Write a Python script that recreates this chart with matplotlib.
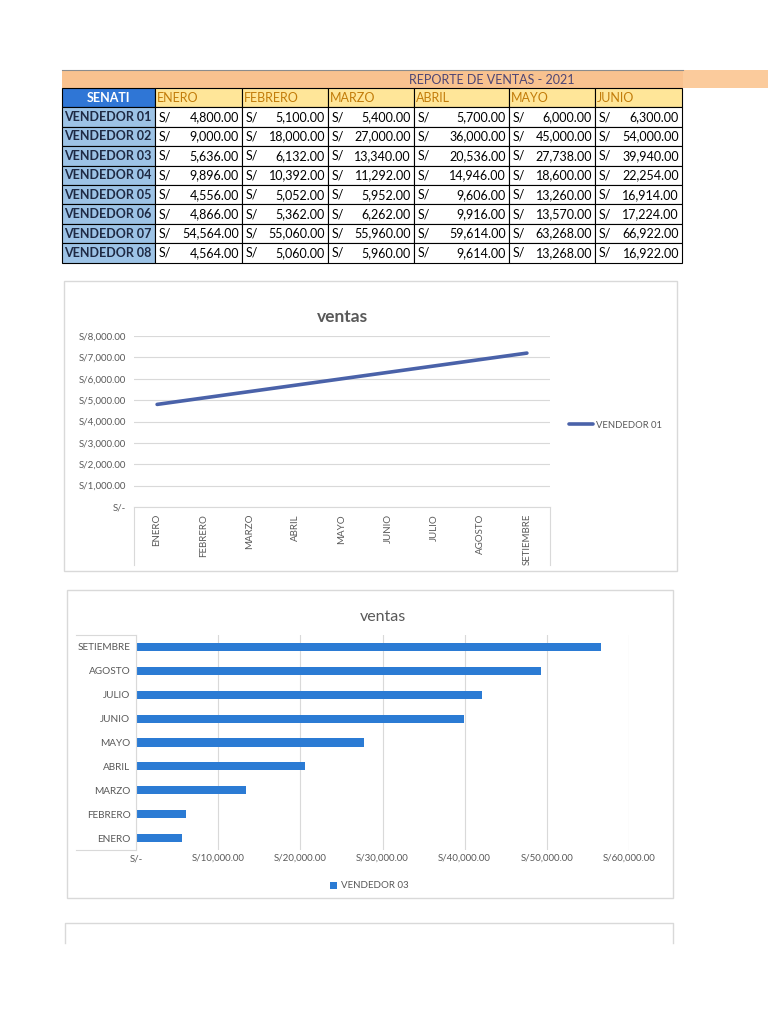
import matplotlib
matplotlib.use('Agg')
import matplotlib.pyplot as plt
from matplotlib.patches import Rectangle
from matplotlib.ticker import FuncFormatter

plt.rcParams['font.family'] = ['Lato', 'DejaVu Sans']

# table data
meses_tabla = ['ENERO', 'FEBRERO', 'MARZO', 'ABRIL', 'MAYO', 'JUNIO']
vendedores = ['VENDEDOR 01', 'VENDEDOR 02', 'VENDEDOR 03', 'VENDEDOR 04',
              'VENDEDOR 05', 'VENDEDOR 06', 'VENDEDOR 07', 'VENDEDOR 08']
v01 = [4800, 5100, 5400, 5700, 6000, 6300]
v02 = [9000, 18000, 27000, 36000, 45000, 54000]
v03 = [5636, 6132, 13340, 20536, 27738, 39940]
v04 = [9896, 10392, 11292, 14946, 18600, 22254]
v05 = [4556, 5052, 5952, 9606, 13260, 16914]
v06 = [4866, 5362, 6262, 9916, 13570, 17224]
v07 = [54564, 55060, 55960, 59614, 63268, 66922]
v08 = [4564, 5060, 5960, 9614, 13268, 16922]
tabla = [v01, v02, v03, v04, v05, v06, v07, v08]

# chart data
meses = ['ENERO', 'FEBRERO', 'MARZO', 'ABRIL', 'MAYO', 'JUNIO', 'JULIO', 'AGOSTO', 'SETIEMBRE']
linea_v01 = [4800, 5100, 5400, 5700, 6000, 6300, 6600, 6900, 7200]
barras_v03 = [5636, 6132, 13340, 20536, 27738, 39940, 42142, 49344, 56546]

W, H = 768, 1024
fig = plt.figure(figsize=(W / 100, H / 100), dpi=100)

# background axes in pixel coordinates for the table and chart frames
bg = fig.add_axes([0, 0, 1, 1])
bg.set_xlim(0, W)
bg.set_ylim(H, 0)
bg.axis('off')


def ax_rect(x0, y0, x1, y1):
    return [x0 / W, 1 - y1 / H, (x1 - x0) / W, (y1 - y0) / H]


# ---- table ----
col_x = [62, 155, 242, 328, 414, 509, 595, 682]
row_top = 88
row_h = 19.4
title_top = 70

bg.add_patch(Rectangle((62, title_top), W - 62, row_top - title_top, facecolor='#FBCB9C', edgecolor='none'))
bg.add_patch(Rectangle((62, title_top), 683 - 62, row_top - title_top, facecolor='#F9C28F', edgecolor='none'))
bg.plot([62, 683], [title_top, title_top], color='#8C8C8C', lw=0.8)
bg.text(492, (title_top + row_top) / 2 + 0.5, 'REPORTE DE VENTAS - 2021', ha='center', va='center',
        fontsize=9, color='#4E4675')

# header row
bg.add_patch(Rectangle((col_x[0], row_top), col_x[1] - col_x[0], row_h, facecolor='#2F76D6', edgecolor='black', lw=0.8))
bg.text((col_x[0] + col_x[1]) / 2, row_top + row_h / 2, 'SENATI', ha='center', va='center',
        fontsize=9, color='white', fontweight='bold')
for j, m in enumerate(meses_tabla):
    bg.add_patch(Rectangle((col_x[j + 1], row_top), col_x[j + 2] - col_x[j + 1], row_h,
                           facecolor='#FFE699', edgecolor='black', lw=0.8))
    bg.text(col_x[j + 1] + 2, row_top + row_h / 2, m, ha='left', va='center',
            fontsize=9, color='#C27C0A')

for i, (name, vals) in enumerate(zip(vendedores, tabla)):
    y = row_top + row_h * (i + 1)
    bg.add_patch(Rectangle((col_x[0], y), col_x[1] - col_x[0], row_h, facecolor='#9DC3E6', edgecolor='black', lw=0.8))
    bg.text(col_x[0] + 2, y + row_h / 2, name, ha='left', va='center',
            fontsize=9, color='#1F2A44', fontweight='bold')
    for j, v in enumerate(vals):
        bg.add_patch(Rectangle((col_x[j + 1], y), col_x[j + 2] - col_x[j + 1], row_h,
                               facecolor='white', edgecolor='black', lw=0.8))
        bg.text(col_x[j + 1] + 4, y + row_h / 2, 'S/', ha='left', va='center', fontsize=9, color='black')
        bg.text(col_x[j + 2] - 3, y + row_h / 2, f'{v:,.2f}', ha='right', va='center', fontsize=9, color='black')

# ---- frames ----
frame_c = '#D9D9D9'
bg.add_patch(Rectangle((64, 281), 677 - 64, 571 - 281, facecolor='none', edgecolor=frame_c, lw=1))
bg.add_patch(Rectangle((67, 590), 673 - 67, 898 - 590, facecolor='none', edgecolor=frame_c, lw=1))
bg.plot([65, 65, 673, 673], [943, 923, 923, 943], color=frame_c, lw=1)

gray = '#595959'

# ---- line chart ----
ax1 = fig.add_axes(ax_rect(134, 336, 550, 507))
x = list(range(len(meses)))
ax1.plot(x, linea_v01, color='#4A62A9', lw=2.6, solid_capstyle='round', label='VENDEDOR 01')
ax1.set_xlim(-0.5, len(meses) - 0.5)
ax1.set_ylim(0, 8000)
ax1.set_yticks(range(0, 8001, 1000))
ax1.yaxis.set_major_formatter(FuncFormatter(lambda v, p: 'S/-' if v == 0 else f'S/{v:,.2f}'))
ax1.set_xticks(x)
ax1.set_xticklabels(meses, rotation=90, fontsize=7, color=gray)
ax1.tick_params(axis='y', length=0, labelsize=7, labelcolor=gray, pad=6)
ax1.tick_params(axis='x', length=0, pad=5)
ax1.grid(axis='y', color=frame_c, lw=0.8)
ax1.set_axisbelow(True)
for s in ['top', 'right', 'left']:
    ax1.spines[s].set_visible(False)
ax1.spines['bottom'].set_color(frame_c)
ax1.set_title('ventas', fontsize=12.5, color=gray, fontweight='bold', pad=10)
ax1.legend(loc='center left', bbox_to_anchor=(560 / W, 1 - 425 / H), bbox_transform=fig.transFigure,
           frameon=False, fontsize=6.8, labelcolor=gray, handlelength=2.6, handletextpad=0.3)
bg.plot([134, 134], [507, 565], color=frame_c, lw=0.8)
bg.plot([550, 550], [507, 565], color=frame_c, lw=0.8)

# ---- bar chart ----
ax2 = fig.add_axes(ax_rect(136, 635, 629, 850))
ax2.barh(x, barras_v03, height=0.34, color='#2B7BD4', label='VENDEDOR 03')
ax2.set_ylim(-0.5, len(meses) - 0.5)
ax2.set_xlim(0, 60000)
ax2.set_xticks(range(0, 60001, 10000))
ax2.xaxis.set_major_formatter(FuncFormatter(lambda v, p: 'S/-' if v == 0 else f'S/{v:,.2f}'))
ax2.set_yticks(x)
ax2.set_yticklabels(meses, fontsize=7.2, color=gray)
ax2.tick_params(axis='x', length=0, labelsize=7, labelcolor=gray, pad=3)
ax2.tick_params(axis='y', length=0, pad=4)
ax2.grid(axis='x', color=frame_c, lw=0.8)
ax2.set_axisbelow(True)
for s in ['top', 'right', 'bottom']:
    ax2.spines[s].set_visible(False)
ax2.spines['left'].set_color(frame_c)
ax2.set_title('ventas', fontsize=11.5, color=gray, pad=10)
ax2.legend(loc='center', bbox_to_anchor=(369 / W, 1 - 886 / H), bbox_transform=fig.transFigure,
           frameon=False, fontsize=7, labelcolor=gray, handlelength=0.7, handleheight=0.7, handletextpad=0.4)
bg.plot([76, 136], [635, 635], color=frame_c, lw=0.8)
bg.plot([76, 136], [850, 850], color=frame_c, lw=0.8)

fig.savefig('out.png', dpi=100)
